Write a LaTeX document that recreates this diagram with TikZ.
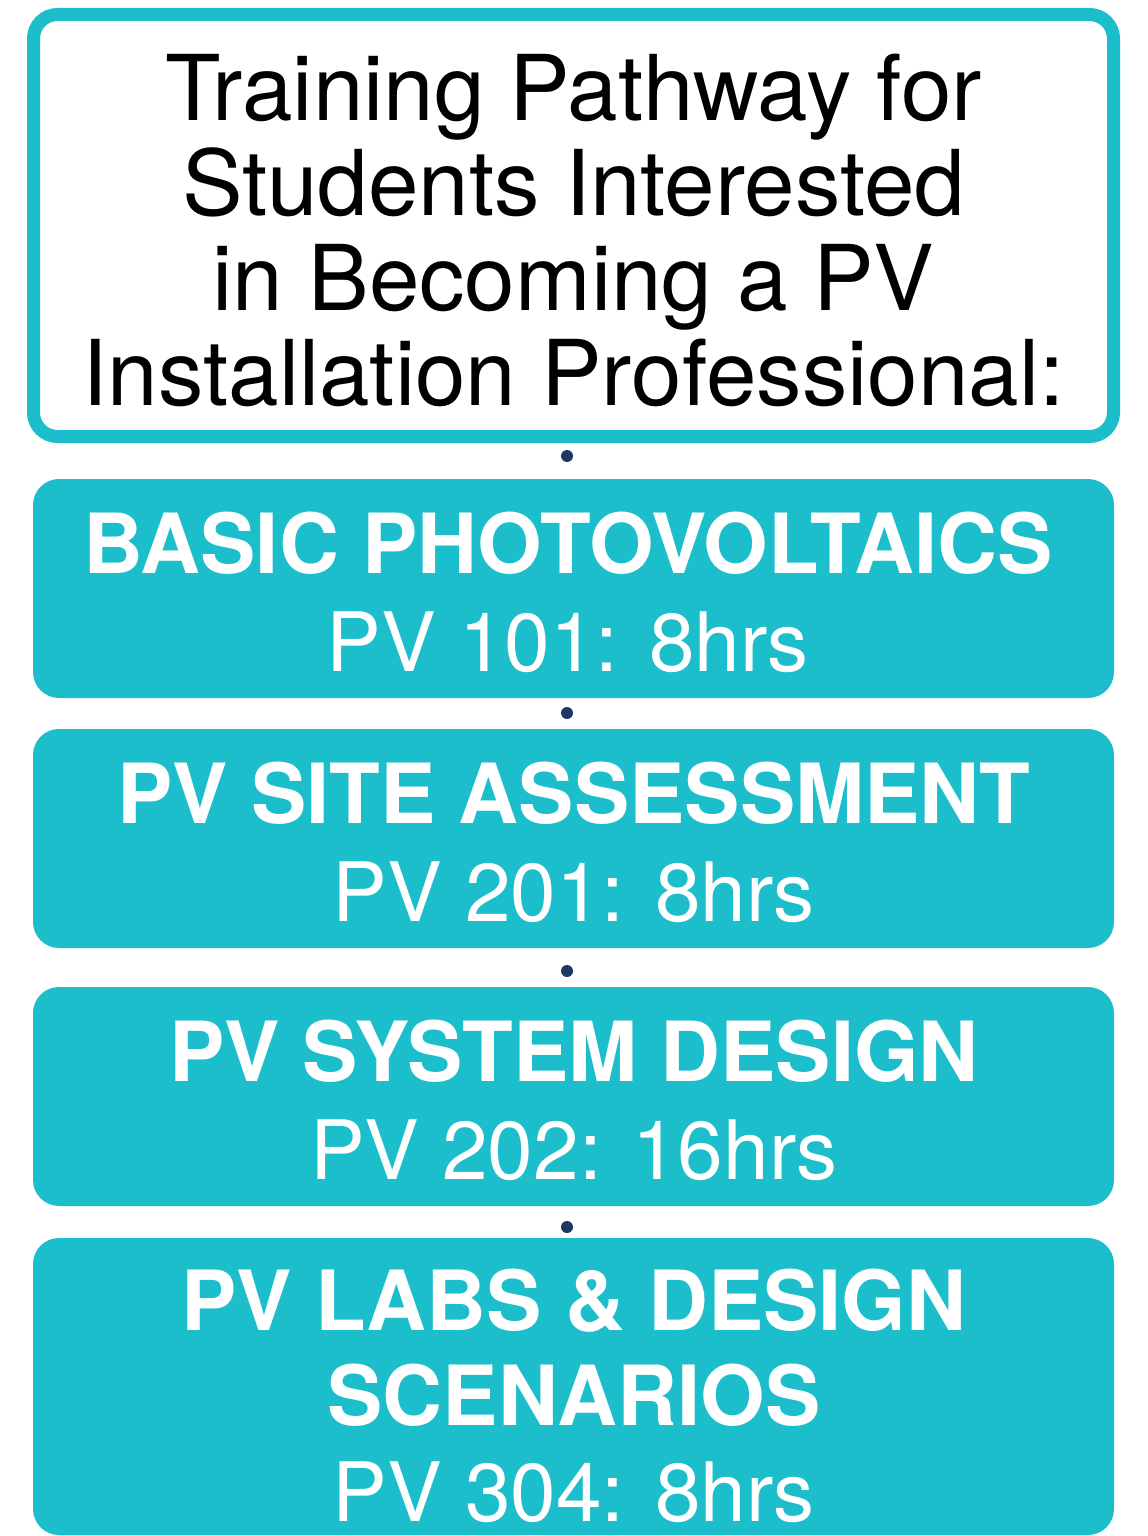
\documentclass[tikz,border=0pt]{standalone}
\usepackage{fontspec}
\setmainfont{TeX Gyre Heros}
\definecolor{tealc}{RGB}{29,190,204}
\definecolor{navy}{RGB}{30,55,100}
\begin{document}
\begin{tikzpicture}[x=0.5pt,y=-0.5pt,
  titlebox/.style={draw=tealc, line width=6.5pt, rounded corners=12pt, fill=white, inner sep=0pt, outer sep=0pt, minimum width=540pt},
  tealbox/.style={fill=tealc, rounded corners=13pt, inner sep=0pt, outer sep=0pt, minimum width=540.5pt},
  titletxt/.style={anchor=base, inner sep=0pt, font=\fontsize{45.4pt}{47pt}\selectfont, text=black},
  headtxt/.style={anchor=base, inner sep=0pt, font=\fontsize{41.5pt}{44pt}\selectfont\bfseries, text=white},
  subtxt/.style={anchor=base, inner sep=0pt, font=\fontsize{41pt}{43pt}\selectfont, text=white},
  dotnode/.style={circle, fill=navy, inner sep=0pt, minimum size=6pt}]
\useasboundingbox (0,0) rectangle (1147,1536);
\node[titlebox, minimum height=211pt] (t) at (573.5,225.5) {};
\node[titletxt] (t1) at (573.5,120) {Training Pathway for};
\node[titletxt] (t2) at (573.5,215) {Students Interested};
\node[titletxt] (t3) at (573.5,310) {in Becoming a PV};
\node[titletxt] (t4) at (573.5,405) {Installation Professional:};

\node[tealbox, minimum height=109.5pt] (b1) at (573.5,588.5) {};
\node[headtxt] (b1a) at (568,573) {BASIC PHOTOVOLTAICS};
\node[subtxt] (b1b) at (568,671) {PV 101: 8hrs};

\node[tealbox, minimum height=109.5pt] (b2) at (573.5,838.5) {};
\node[headtxt] (b2a) at (574,823) {PV SITE ASSESSMENT};
\node[subtxt] (b2b) at (574,921) {PV 201: 8hrs};

\node[tealbox, minimum height=109.5pt] (b3) at (573.5,1096.5) {};
\node[headtxt] (b3a) at (574,1081) {PV SYSTEM DESIGN};
\node[subtxt] (b3b) at (574,1179) {PV 202: 16hrs};

\node[tealbox, minimum height=148.5pt] (b4) at (573.5,1386.5) {};
\node[headtxt] (b4a) at (574,1330) {PV LABS \& DESIGN};
\node[headtxt] (b4b) at (574,1425) {SCENARIOS};
\node[subtxt] (b4c) at (574,1521) {PV 304: 8hrs};

\node[dotnode] (d1) at (567,456) {};
\node[dotnode] (d2) at (567,713) {};
\node[dotnode] (d3) at (567,971) {};
\node[dotnode] (d4) at (567,1227) {};
\end{tikzpicture}
\end{document}
